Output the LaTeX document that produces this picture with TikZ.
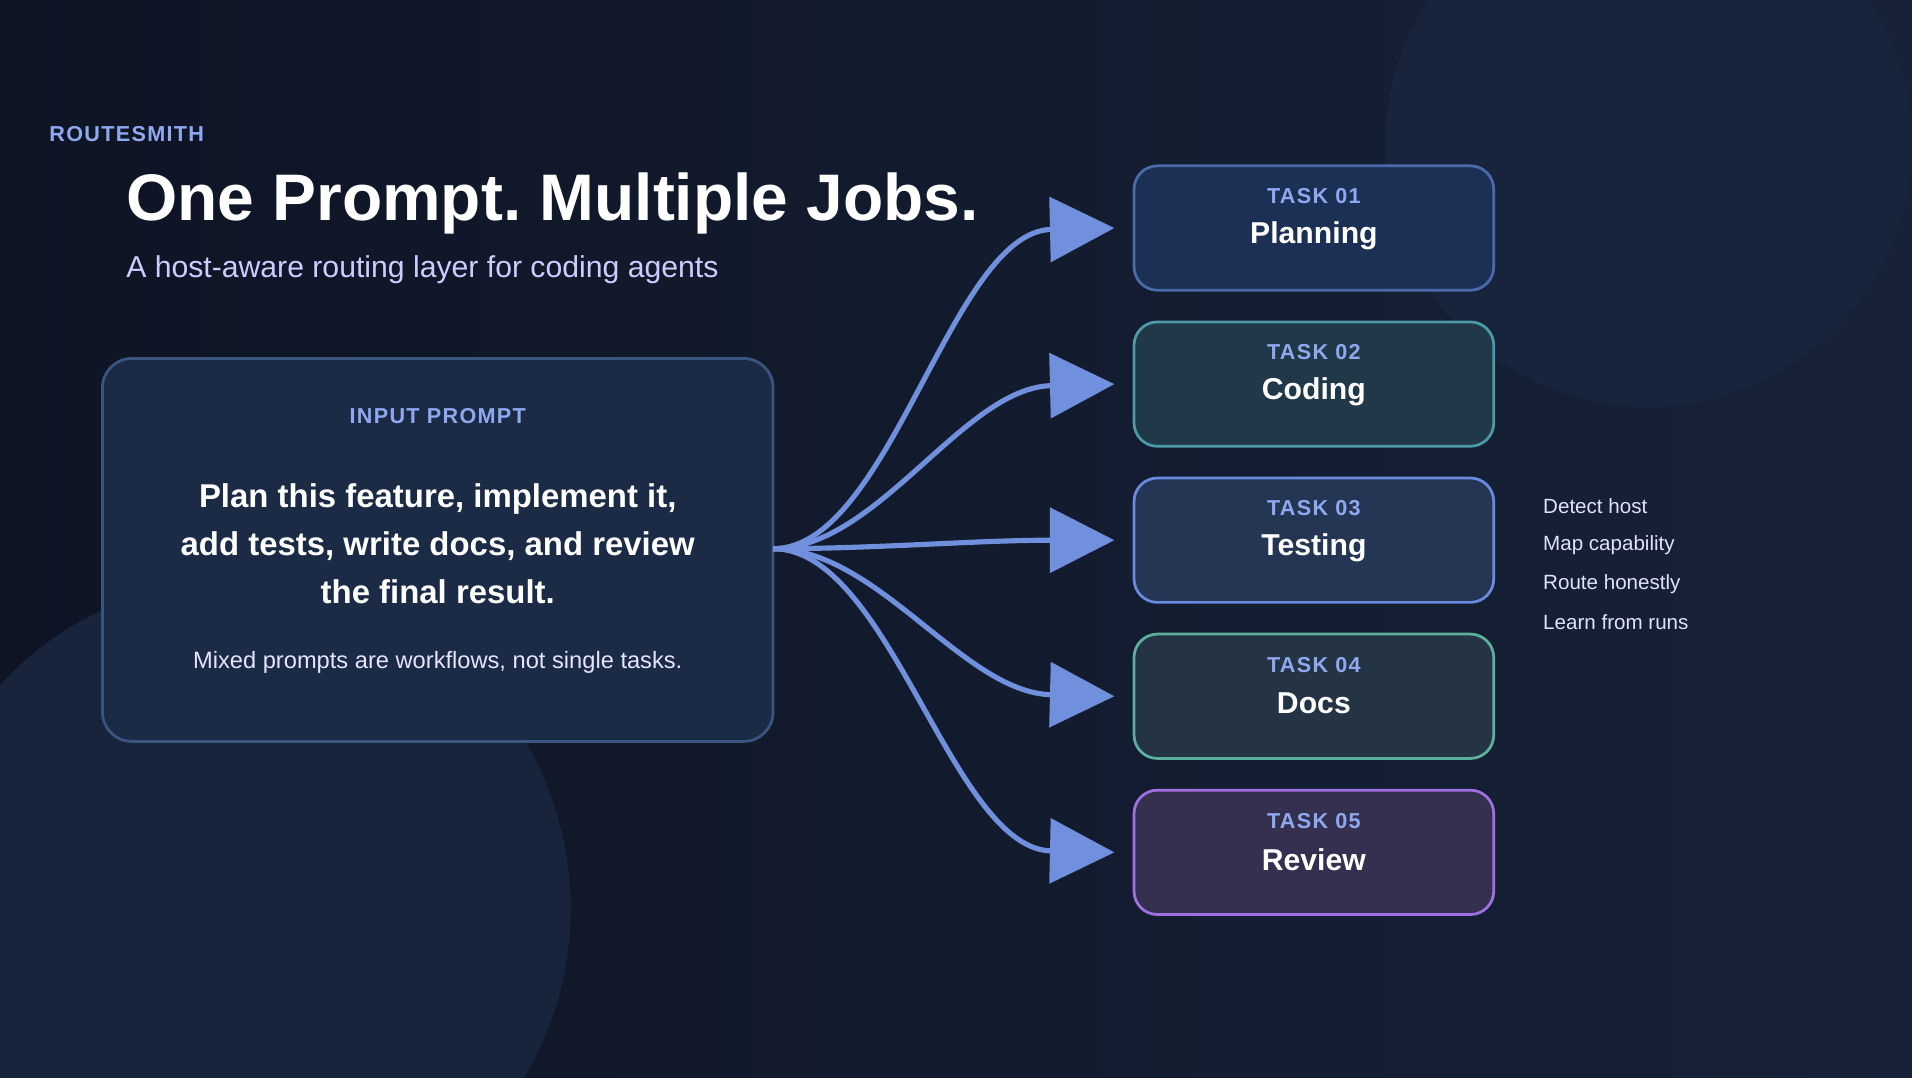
\documentclass[tikz,border=0pt]{standalone}
\usepackage{fontspec}
\setmainfont{Liberation Sans}
\newfontfamily\spaced[LetterSpace=6]{Liberation Sans}
\usetikzlibrary{arrows.meta}
\frenchspacing
\definecolor{bgA}{HTML}{0E1424}
\definecolor{bgB}{HTML}{172238}
\definecolor{circ}{HTML}{18243B}
\definecolor{accent}{HTML}{8FA8F0}
\definecolor{arr}{HTML}{7090DD}
\definecolor{inDraw}{HTML}{3A5580}
\definecolor{inFill}{HTML}{1B2A45}
\tikzset{
  x=0.0125cm,y=-0.0125cm,
  kicker/.style={text=accent,font=\spaced\bfseries\fontsize{6.3}{8}\selectfont},
  task/.style={draw,line width=0.8pt,rounded corners=0.24cm,minimum width=295*0.0125cm,minimum height=102*0.0125cm,align=center,text=white},
  flow/.style={draw=arr,line width=1.5pt,-{Triangle[length=0.66cm,width=0.66cm]}},
  side/.style={anchor=west,inner sep=0pt,text=white!88!blue,font=\fontsize{6}{7}\selectfont},
}
\begin{document}
\begin{tikzpicture}
\useasboundingbox (0,0) rectangle (1568,884);
\shade[left color=bgA,right color=bgB] (0,0) rectangle (1568,884);
\begin{scope}
\clip (0,0) rectangle (1568,884);
\fill[circ] (1352,118) circle (216);
\fill[circ] (198,745) circle (270);
\end{scope}
\node[kicker,anchor=west,inner sep=0pt] (brand) at (40,110) {ROUTESMITH};
\node[anchor=west,inner sep=0pt,text=white,font=\bfseries\fontsize{19.2}{24}\selectfont] (title) at (103,167) {One Prompt. Multiple Jobs.};
\node[anchor=west,inner sep=0pt,text=white!80!blue,font=\fontsize{8.8}{10}\selectfont] (sub) at (103,221) {A host-aware routing layer for coding agents};
\node[draw=inDraw,fill=inFill,line width=0.8pt,rounded corners=0.3cm,minimum width=550*0.0125cm,minimum height=314*0.0125cm] (input) at (359,451) {};
\node[kicker] (ik) at (359,341) {INPUT PROMPT};
\node[align=center,text=white,font=\bfseries\fontsize{9.6}{14}\selectfont] (itext) at (359,446) {Plan this feature, implement it,\\add tests, write docs, and review\\the final result.};
\node[text=white!90!blue,font=\fontsize{6.9}{8}\selectfont] (imix) at (359,543) {Mixed prompts are workflows, not single tasks.};
\coordinate (src) at (634,450);
\foreach \n/\y/\f/\d/\t in {1/187/1C3055/4A6AAA/Planning,2/315/213848/4A9AA8/Coding,3/443/243654/6A8AE0/Testing,4/571/243444/5AB09A/Docs,5/699/35304F/A070E0/Review}{
  \definecolor{tf\n}{HTML}{\f}\definecolor{td\n}{HTML}{\d}
  \node[task,fill=tf\n,draw=td\n] (t\n) at (1077.5,\y) {};
  \node[kicker] at (1077.5,\y-26) {TASK 0\n};
  \node[text=white,font=\bfseries\fontsize{8.8}{11}\selectfont] at (1077.5,\y+6) {\t};
}
\draw[flow] (src) .. controls (730,450) and (780,190) .. ([xshift=-15*0.0125cm]t1.west);
\draw[flow] (src) .. controls (720,450) and (790,318) .. ([xshift=-15*0.0125cm]t2.west);
\draw[flow] (src) .. controls (720,450) and (800,443) .. ([xshift=-15*0.0125cm]t3.west);
\draw[flow] (src) .. controls (720,450) and (790,568) .. ([xshift=-15*0.0125cm]t4.west);
\draw[flow] (src) .. controls (730,450) and (780,696) .. ([xshift=-15*0.0125cm]t5.west);
\node[side] (s1) at (1265,415) {Detect host};
\node[side] (s2) at (1265,447) {Map capability};
\node[side] (s3) at (1265,479) {Route honestly};
\node[side] (s4) at (1265,510) {Learn from runs};
\end{tikzpicture}
\end{document}
